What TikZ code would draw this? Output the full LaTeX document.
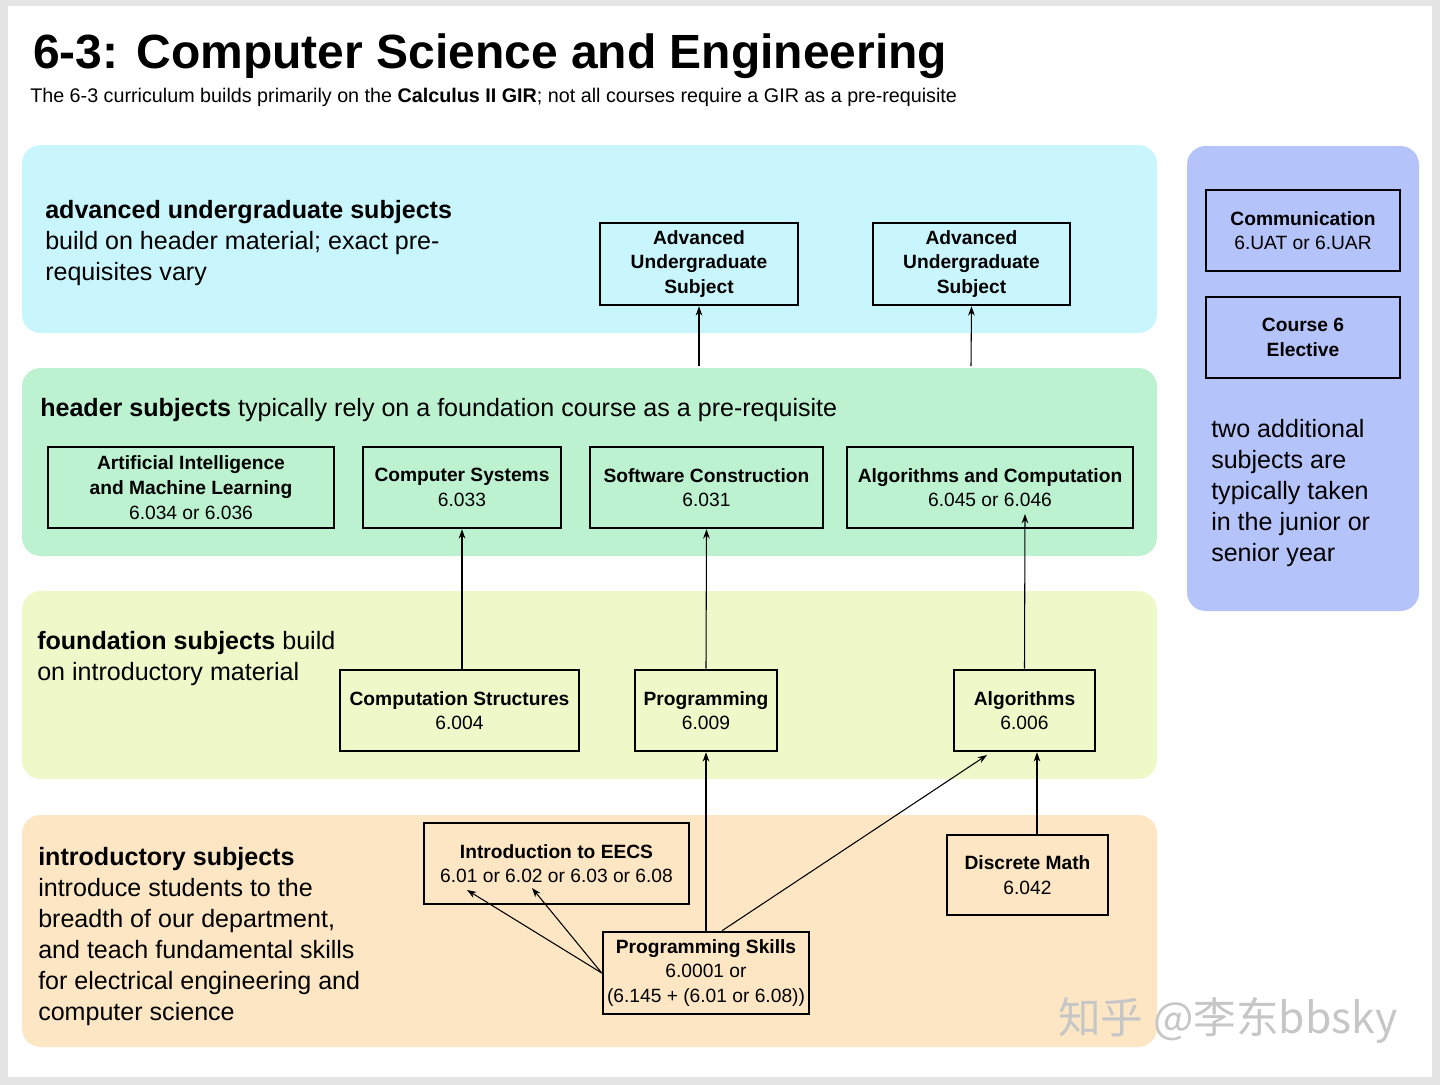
\documentclass[tikz,border=0pt]{standalone}
\usepackage{fontspec}
\setmainfont{Liberation Sans}
\newfontfamily\cjk{Noto Sans CJK SC}
\usetikzlibrary{arrows.meta}
\definecolor{bcyan}{HTML}{C9F6FC}
\definecolor{bgreen}{HTML}{BDF2D1}
\definecolor{byellow}{HTML}{EEF8C9}
\definecolor{borange}{HTML}{FDE6C4}
\definecolor{bblue}{HTML}{B4C3F9}
\begin{document}
\begin{tikzpicture}[x=0.75pt,y=-0.75pt,
 band/.style={rounded corners=14pt},
 box/.style={draw=black,line width=1.9pt,align=center,font=\fontsize{14.4}{18.5}\selectfont,inner sep=0pt},
 arr/.style={-{Stealth[length=7pt,width=5pt]},line width=0.8pt},
 lbl/.style={anchor=north west,align=left,inner sep=0pt,font=\fontsize{18.8}{23.2}\selectfont}]
\useasboundingbox (0,0) rectangle (1440,1085);
\fill[gray!20] (0,0) rectangle (1440,1085);
\fill[white] (8,6) rectangle (1432,1077);
\fill[band,bcyan] (22,145) rectangle (1157,333);
\fill[band,bgreen] (22,368) rectangle (1157,556);
\fill[band,byellow] (22,591) rectangle (1157,779);
\fill[band,borange] (22,815) rectangle (1157,1047);
\fill[band,bblue] (1187,146) rectangle (1419,611);
\node[anchor=base west,inner sep=0pt,font=\fontsize{36}{44}\selectfont\bfseries] (title) at (33,68) {6-3: Computer Science and Engineering};
\node[anchor=base west,inner sep=0pt,font=\fontsize{14.8}{17}\selectfont] (sub) at (30,102) {The 6-3 curriculum builds primarily on the \textbf{Calculus II GIR}; not all courses require a GIR as a pre-requisite};
\node[lbl] (l1) at (45,200) {\textbf{advanced undergraduate subjects}\\build on header material; exact pre-\\requisites vary};
\node[lbl] (l2) at (40,398) {\textbf{header subjects} typically rely on a foundation course as a pre-requisite};
\node[lbl] (l3) at (37,631) {\textbf{foundation subjects} build\\on introductory material};
\node[lbl] (l4) at (38,847) {\textbf{introductory subjects}\\introduce students to the\\breadth of our department,\\and teach fundamental skills\\for electrical engineering and\\computer science};
\node[lbl] (l5) at (1211,419) {two additional\\subjects are\\typically taken\\in the junior or\\senior year};
\node[box,minimum width=148.5pt,minimum height=61.5pt] (au1) at (699,264) {\textbf{Advanced}\\\textbf{Undergraduate}\\\textbf{Subject}};
\node[box,minimum width=147.75pt,minimum height=61.5pt] (au2) at (971.5,264) {\textbf{Advanced}\\\textbf{Undergraduate}\\\textbf{Subject}};
\node[box,minimum width=214.5pt,minimum height=60.75pt] (ai) at (191,487.5) {\textbf{Artificial Intelligence}\\\textbf{and Machine Learning}\\6.034 or 6.036};
\node[box,minimum width=148.5pt,minimum height=60.75pt] (cs) at (462,487.5) {\textbf{Computer Systems}\\6.033};
\node[box,minimum width=174.75pt,minimum height=60.75pt] (sc) at (706.5,487.5) {\textbf{Software Construction}\\6.031};
\node[box,minimum width=214.5pt,minimum height=60.75pt] (ac) at (990,487.5) {\textbf{Algorithms and Computation}\\6.045 or 6.046};
\node[box,minimum width=179.25pt,minimum height=60.75pt] (cst) at (459.5,710.5) {\textbf{Computation Structures}\\6.004};
\node[box,minimum width=106.5pt,minimum height=60.75pt] (prog) at (706,710.5) {\textbf{Programming}\\6.009};
\node[box,minimum width=105.75pt,minimum height=60.75pt] (alg) at (1024.5,710.5) {\textbf{Algorithms}\\6.006};
\node[box,minimum width=198.75pt,minimum height=60.75pt] (eecs) at (556.5,863.5) {\textbf{Introduction to EECS}\\6.01 or 6.02 or 6.03 or 6.08};
\node[box,minimum width=120.75pt,minimum height=60pt] (dm) at (1027.5,875) {\textbf{Discrete Math}\\6.042};
\node[box,minimum width=154.5pt,minimum height=61.5pt] (ps) at (706,973) {\textbf{Programming Skills}\\6.0001 or\\(6.145 + (6.01 or 6.08))};
\node[box,minimum width=145.5pt,minimum height=60.75pt] (com) at (1303,230.5) {\textbf{Communication}\\6.UAT or 6.UAR};
\node[box,minimum width=145.5pt,minimum height=60.75pt] (c6) at (1303,337.5) {\textbf{Course 6}\\\textbf{Elective}};
\coordinate (g1) at (699,366);
\coordinate (g2) at (971,366);
\coordinate (acin) at (1025,514);
\coordinate (algin) at (987,755);
\coordinate (e1) at (467,890);
\coordinate (e2) at (532,888);
\draw[arr] (g1) -- (au1.south);
\draw[arr] (g2) -- (au2.south);
\draw[arr] (cst.north -| cs) -- (cs.south);
\draw[arr] (prog.north) -- (sc.south);
\draw[arr] (alg.north) -- (acin);
\draw[arr] (ps.north) -- (prog.south);
\draw[arr] ([xshift=12pt]ps.north) -- (algin);
\draw[arr] (dm.north -| 1037,0) -- (alg.south -| 1037,0);
\draw[arr] (ps.west) -- (e1);
\draw[arr] (ps.west) -- (e2);
\node[anchor=west,inner sep=0pt,text=gray!45,font=\cjk\fontsize{32}{36}\selectfont] (wm) at (1058,1020) {知乎 @李东bbsky};
\end{tikzpicture}
\end{document}
